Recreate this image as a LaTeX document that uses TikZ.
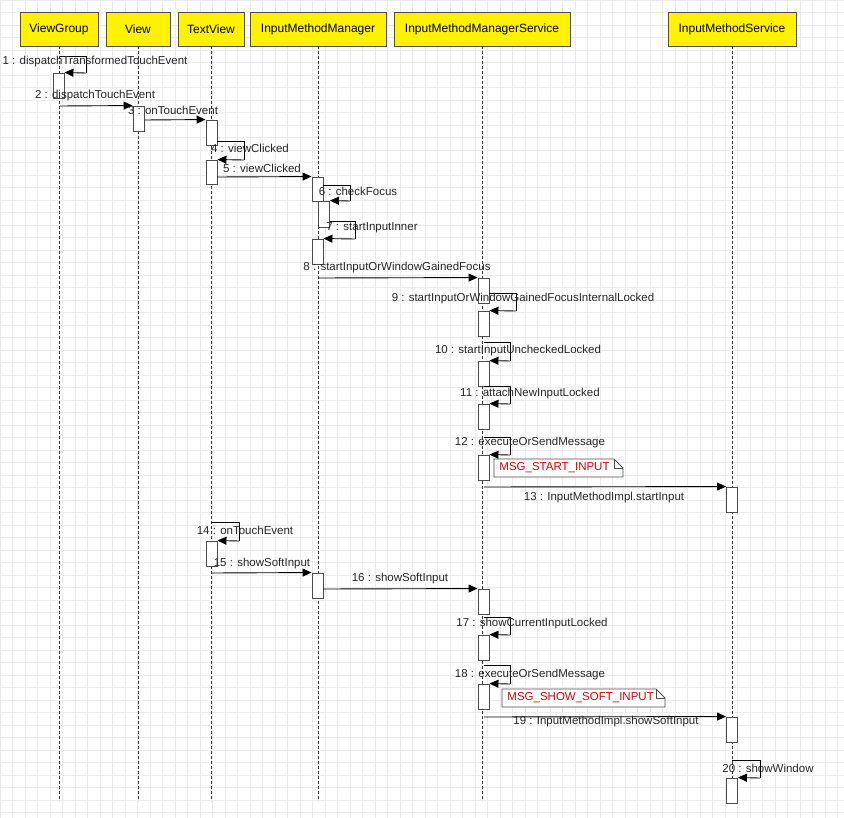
\documentclass[tikz,border=0pt]{standalone}
\usepackage{fontspec}
\setmainfont{Liberation Sans}
\usetikzlibrary{arrows.meta,shapes.misc}
\begin{document}
\begin{tikzpicture}[x=1pt,y=-1pt,line width=0.9pt,
  head/.style={draw=black!70,fill=yellow,minimum height=34pt,inner sep=0pt,font=\fontsize{12}{14}\selectfont},
  life/.style={densely dashed,black!80,line width=0.8pt},
  actb/.style={draw=black!70,fill=white},
  msg/.style={-{Triangle[length=9pt,width=8pt]},black},
  lbl/.style={font=\fontsize{11.5}{14}\selectfont,text=black!85,inner sep=0pt},
  note/.style={draw=black!70,fill=white}]
\useasboundingbox (0,0) rectangle (844,818);
\fill[white] (0,0) rectangle (844,818);
\draw[black!8,line width=0.6pt,step=12.5pt] (0,0) grid (844,818);
% headers
\foreach \n/\xa/\xb/\t in {vg/20/98/ViewGroup, v/106/170/View, tv/178/244/TextView, imm/250/386/InputMethodManager, imms/394/570/InputMethodManagerService, ims/668/796/InputMethodService}{
  \node[head,minimum width={\xb-\xa}] (\n) at ({(\xa+\xb)/2},29) {\t};
}
\foreach \n in {vg,v,tv,imm,imms,ims}{\draw[life] (\n.south) -- ++(0,755);}
\newcommand{\actbox}[4]{\node[actb,minimum width=11pt,minimum height={#4-#3},inner sep=0pt] (#1) at (#2,{(#3+#4)/2}) {};}
\newcommand{\selfmsg}[6]{%
  \draw[black] (#2,#3) -- (#4,#3) -- (#4,#5); \draw[msg] (#4,#5) -- (#6);}
% 1
\actbox{a1}{58.5}{73}{98}
\selfmsg{}{60}{56}{86}{73}{a1.north east}
\node[lbl] at (95,62) {1 : dispatchTransformedTouchEvent};
% 2
\actbox{a2}{138.5}{106}{131}
\draw[msg] (60,106) -- (a2.north west);
\node[lbl] at (95,96) {2 : dispatchTouchEvent};
% 3
\actbox{a3}{211.5}{120}{145}
\draw[msg] (a2.east|-0,120) -- (a3.north west);
\node[lbl] at (173,110) {3 : onTouchEvent};
% 4
\actbox{a4}{211.5}{160}{184}
\selfmsg{}{217}{141}{244}{160}{a4.north east}
\node[lbl] at (250,148) {4 : viewClicked};
% 5
\actbox{a5}{317.5}{177}{201}
\draw[msg] (217,177) -- (a5.north west);
\node[lbl] at (262,168) {5 : viewClicked};
% 6
\actbox{a6}{324}{201}{227}
\selfmsg{}{323}{185}{350}{201}{a6.north east}
\node[lbl] at (358,191) {6 : checkFocus};
% 7
\actbox{a7}{317.5}{239}{264}
\selfmsg{}{330}{221}{355}{239}{a7.north east}
\node[lbl] at (372,228) {7 : startInputInner};
% 8
\actbox{a8}{483.5}{278}{303}
\draw[msg] (318,278) -- (a8.north west);
\node[lbl] at (397,268) {8 : startInputOrWindowGainedFocus};
% 9
\actbox{a9}{483.5}{311}{336}
\selfmsg{}{489}{293}{516}{311}{a9.north east}
\node[lbl] at (523,299) {9 : startInputOrWindowGainedFocusInternalLocked};
% 10
\actbox{a10}{483.5}{361}{386}
\selfmsg{}{484}{342}{510}{361}{a10.north east}
\node[lbl] at (518,351) {10 : startInputUncheckedLocked};
% 11
\actbox{a11}{483.5}{404}{429}
\selfmsg{}{484}{386}{510}{404}{a11.north east}
\node[lbl] at (530,394) {11 : attachNewInputLocked};
% 12
\actbox{a12}{483.5}{455}{480}
\selfmsg{}{484}{437}{510}{455}{a12.north east}
\node[lbl] at (530,443) {12 : executeOrSendMessage};
\draw[note] (494,459) -- (614,459) -- (623,468) -- (623,477) -- (494,477) -- cycle;
\draw[black!70] (614,459) -- (614,468) -- (623,468);
\node[lbl,text=red!85!black,anchor=west] (n1) at (499,468) {MSG\_START\_INPUT};
% 13
\actbox{a13}{732}{487}{512}
\draw[msg] (484,487) -- (a13.north west);
\node[lbl] at (604,498) {13 : InputMethodImpl.startInput};
% 14
\actbox{a14}{211.5}{541}{566}
\selfmsg{}{212}{522}{239}{541}{a14.north east}
\node[lbl] at (245,530) {14 : onTouchEvent};
% 15
\actbox{a15}{317.5}{573}{598}
\draw[msg] (212,573) -- (a15.north west);
\node[lbl] at (262,564) {15 : showSoftInput};
% 16
\actbox{a16}{483.5}{589}{614}
\draw[msg] (323,589) -- (a16.north west);
\node[lbl] at (400,579) {16 : showSoftInput};
% 17
\actbox{a17}{483.5}{635}{660}
\selfmsg{}{484}{617}{510}{635}{a17.north east}
\node[lbl] at (532,624) {17 : showCurrentInputLocked};
% 18
\actbox{a18}{483.5}{684}{709}
\selfmsg{}{484}{665}{510}{684}{a18.north east}
\node[lbl] at (530,675) {18 : executeOrSendMessage};
\draw[note] (502,689) -- (656,689) -- (665,698) -- (665,707) -- (502,707) -- cycle;
\draw[black!70] (656,689) -- (656,698) -- (665,698);
\node[lbl,text=red!85!black,anchor=west] (n2) at (507,698) {MSG\_SHOW\_SOFT\_INPUT};
% 19
\actbox{a19}{732}{717}{742}
\draw[msg] (484,717) -- (a19.north west);
\node[lbl] at (606,722) {19 : InputMethodImpl.showSoftInput};
% 20
\actbox{a20}{732}{778}{803}
\selfmsg{}{732}{760}{760}{778}{a20.north east}
\node[lbl] at (768,768) {20 : showWindow};
\end{tikzpicture}
\end{document}
